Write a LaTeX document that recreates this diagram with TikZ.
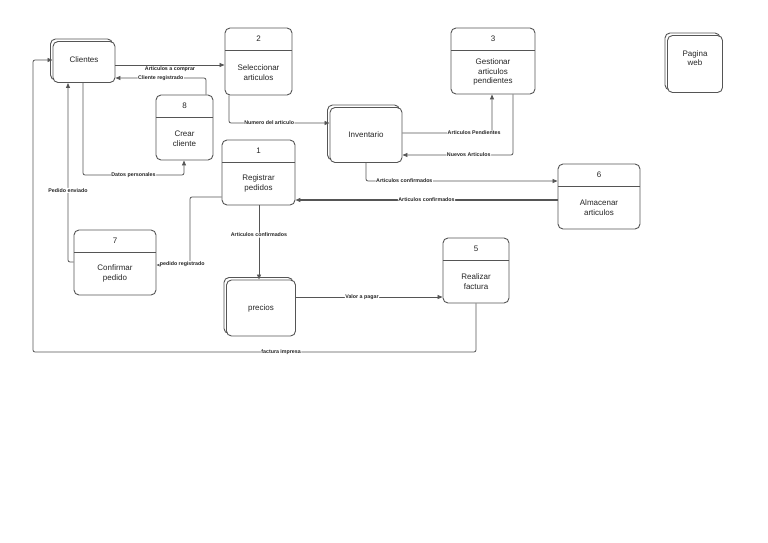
\documentclass[tikz,border=0pt]{standalone}
\usepackage{fontspec}
\setmainfont{Liberation Sans}
\usetikzlibrary{arrows.meta,shadows}
\definecolor{ln}{HTML}{555555}
\tikzset{
 box/.style={draw=ln,fill=white,rounded corners=5pt,line width=0.9pt,inner sep=0pt},
 stack/.style={box,copy shadow={shadow xshift=-2.5pt,shadow yshift=2.5pt,draw=ln,fill=white}},
 txt/.style={font=\fontsize{8}{9.5}\selectfont,align=center,text=black!85},
 lbl/.style={font=\bfseries\fontsize{5.3}{6}\selectfont,fill=white,inner sep=0.5pt,text=black!85},
 flow/.style={draw=ln,line width=0.8pt,-{Triangle[length=5pt,width=4pt]},rounded corners=2pt},
}
\newcommand\proc[7]{%
 \node[box,minimum width=#4pt-#2pt,minimum height=#5pt-#3pt] (#1) at ({(#2+#4)/2},{(#3+#5)/2}) {};
 \draw[ln,line width=0.9pt] (#2,#3+22) -- (#4,#3+22);
 \node[txt] (#1n) at ({(#2+#4)/2},#3+11) {#6};
 \node[txt] (#1t) at ({(#2+#4)/2},{(#3+22+#5)/2}) {#7};}
\begin{document}
\begin{tikzpicture}[x=1pt,y=-1pt]
\useasboundingbox (0,0) rectangle (768,543);
\node[stack,minimum width=62pt,minimum height=41pt] (cli) at (84,62) {};
\node[txt] at (cli) [yshift=2pt] {Clientes};
\node[stack,minimum width=72pt,minimum height=55pt] (inv) at (366,135) {};
\node[txt] at (inv) {Inventario};
\node[stack,minimum width=55pt,minimum height=57pt] (web) at (695,64) {};
\node[txt] at (web) [yshift=6pt] {Pagina\\web};
\node[stack,minimum width=69pt,minimum height=56pt] (pre) at (261,308) {};
\node[txt] at (pre) {precios};
\proc{p2}{225}{28}{292}{95}{2}{Seleccionar\\articulos}
\proc{p8}{156}{95}{213}{160}{8}{Crear\\cliente}
\proc{p1}{222}{140}{295}{205}{1}{Registrar\\pedidos}
\proc{p3}{451}{28}{535}{94}{3}{Gestionar\\articulos\\pendientes}
\proc{p6}{558}{164}{640}{229}{6}{Almacenar\\articulos}
\proc{p7}{74}{230}{156}{295}{7}{Confirmar\\pedido}
\proc{p5}{443}{238}{509}{303}{5}{Realizar\\factura}

\draw[flow] (cli.east |- 0,65) -- node[lbl,below=1pt]{Articulos a comprar} (p2.west |- 0,65);
\draw[flow] (p8.north -| 206,0) |- node[lbl,pos=0.75]{Cliente registrado} (cli.east |- 0,78);
\draw[flow] (cli.south -| 83,0) |- node[lbl,pos=0.75]{Datos personales} (184,175) -- (p8.south -| 184,0);
\draw[flow] (p2.south -| 229,0) |- node[lbl,pos=0.7]{Numero del articulo} (inv.west |- 0,123);
\draw[flow] (inv.east |- 0,133) -| node[lbl,pos=0.4]{Articulos Pendientes} (p3.south -| 492,0);
\draw[flow] (p3.south -| 513,0) |- node[lbl,pos=0.7]{Nuevos Articulos} (inv.east |- 0,155);
\draw[flow] (inv.south -| 366,0) |- node[lbl,pos=0.6]{Articulos confirmados} (p6.west |- 0,181);
\draw[flow,line width=1.2pt] (p6.west |- 0,200) -- node[lbl]{Articulos confirmados} (p1.east |- 0,200);
\draw[flow] (p1.south -| 259,0) -- node[lbl,pos=0.4]{Articulos confirmados} (pre.north -| 259,0);
\draw[flow] (p1.west |- 0,197) -| (190,265) -- node[lbl,pos=0.0,anchor=west,xshift=-31pt,yshift=1pt]{pedido registrado} (p7.east |- 0,265);
\draw[flow] (p7.west |- 0,262) -| node[lbl,pos=0.7]{Pedido enviado} (cli.south -| 68,0);
\draw[flow] (pre.east |- 0,297) -- node[lbl,pos=0.45]{Valor a pagar} (p5.west |- 0,297);
\draw[flow] (p5.south -| 476,0) |- node[lbl,pos=0.72]{factura impresa} (33,352) |- (cli.west |- 0,60);
\end{tikzpicture}
\end{document}
